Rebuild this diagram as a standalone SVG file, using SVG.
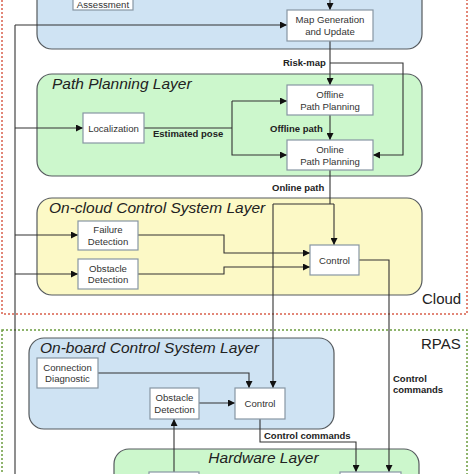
<svg xmlns="http://www.w3.org/2000/svg" width="474" height="474" viewBox="0 0 474 474">
<style>
.bg{fill:#ffffff}
.layer{stroke:#555a5e;stroke-width:1.2}
.blue{fill:#cfe3f3}
.green{fill:#ccf7cc}
.yellow{fill:#fcf9c6}
.box{fill:#ffffff;stroke:#8796a3;stroke-width:1.2}
.t{font-family:"Liberation Sans",Arial,sans-serif;font-size:9.6px;fill:#333;text-anchor:middle}
.lbl{font-family:"Liberation Sans",Arial,sans-serif;font-size:9.5px;font-weight:bold;fill:#222}
.title{font-family:"Liberation Sans",Arial,sans-serif;font-size:15.5px;font-style:italic;fill:#222}
.zone{font-family:"Liberation Sans",Arial,sans-serif;font-size:15px;fill:#222}
.c{fill:none;stroke:#333;stroke-width:1.1}
.ca{fill:none;stroke:#333;stroke-width:1.1;marker-end:url(#ah)}
</style>
<defs>
<marker id="ah" viewBox="0 0 10 10" refX="10" refY="5" markerWidth="7" markerHeight="7" markerUnits="userSpaceOnUse" orient="auto">
<path d="M0,0 L10,5 L0,10 z" fill="#111"/>
</marker>
</defs>
<rect class="bg" x="0" y="0" width="474" height="474"/>

<g id="zone-cloud">
<rect x="2" y="-20" width="465" height="334" fill="none" stroke="#d9604c" stroke-width="1.5" stroke-dasharray="2,2"/>
<text class="zone" x="422" y="304">Cloud</text>
</g>
<g id="zone-rpas">
<rect x="2" y="330" width="465" height="200" fill="none" stroke="#6b9c3e" stroke-width="1.5" stroke-dasharray="2,2"/>
<text class="zone" x="421" y="349">RPAS</text>
</g>

<g id="layer-top">
<rect class="layer blue" x="37" y="-60" width="385" height="109" rx="15"/>
</g>
<g id="layer-path">
<rect class="layer green" x="37" y="74" width="385" height="102" rx="15"/>
<text class="title" x="52" y="89">Path Planning Layer</text>
</g>
<g id="layer-oncloud">
<rect class="layer yellow" x="37" y="198" width="385" height="97" rx="15"/>
<text class="title" x="49" y="213">On-cloud Control System Layer</text>
</g>
<g id="layer-onboard">
<rect class="layer blue" x="29" y="338" width="305" height="91" rx="15"/>
<text class="title" x="40" y="353">On-board Control System Layer</text>
</g>
<g id="layer-hardware">
<rect class="layer green" x="114" y="449" width="305" height="80" rx="15"/>
<text class="title" x="263.5" y="463" text-anchor="middle">Hardware Layer</text>
</g>

<g id="connectors">
<path class="c" d="M15,474 V25"/>
<path class="ca" d="M15,25 H287"/>
<path class="ca" d="M15,128 H83"/>
<path class="ca" d="M15,235 H78"/>
<path class="ca" d="M15,274 H78"/>
<path class="ca" d="M330,0 V10"/>
<path class="ca" d="M330,41 V85"/>
<path class="ca" d="M330,63 H403 V155 H373"/>
<path class="c" d="M144,128 H232"/>
<path class="ca" d="M232,101 V155 H287"/>
<path class="ca" d="M232,101 H287"/>
<path class="ca" d="M330,115 V140"/>
<path class="c" d="M330,170 V204 M273,204 H334"/>
<path class="ca" d="M334,204 V245"/>
<path class="ca" d="M273,204 V388"/>
<path class="ca" d="M138,235 H224 V253 H310"/>
<path class="ca" d="M138,274 H224 V267 H310"/>
<path class="ca" d="M359,260 H389 V472"/>
<path class="ca" d="M98,373 H249 V388"/>
<path class="ca" d="M199,403 H235"/>
<path class="ca" d="M174,474 V419"/>
<path class="ca" d="M260,419 V442 H356 V472"/>
<text class="lbl" x="283" y="66">Risk-map</text>
<text class="lbl" x="153" y="137">Estimated pose</text>
<text class="lbl" x="270" y="132">Offline path</text>
<text class="lbl" x="272" y="191">Online path</text>
<text class="lbl" x="393" y="382">Control</text>
<text class="lbl" x="393" y="393">commands</text>
<text class="lbl" x="264" y="439">Control commands</text>
</g>

<g id="node-assessment">
<rect class="box" x="73" y="-20" width="60" height="30"/>
<text class="t" x="103" y="7.5">Assessment</text>
</g>
<g id="node-mapgen">
<rect class="box" x="287" y="10" width="86" height="31"/>
<text class="t" x="330" y="23">Map Generation</text>
<text class="t" x="330" y="35">and Update</text>
</g>
<g id="node-localization">
<rect class="box" x="83" y="113" width="61" height="30"/>
<text class="t" x="113.5" y="131.5">Localization</text>
</g>
<g id="node-offline">
<rect class="box" x="287" y="85" width="86" height="30"/>
<text class="t" x="330" y="98">Offline</text>
<text class="t" x="330" y="110">Path Planning</text>
</g>
<g id="node-online">
<rect class="box" x="287" y="140" width="86" height="30"/>
<text class="t" x="330" y="153">Online</text>
<text class="t" x="330" y="165">Path Planning</text>
</g>
<g id="node-failure">
<rect class="box" x="78" y="221" width="60" height="29"/>
<text class="t" x="108" y="233">Failure</text>
<text class="t" x="108" y="245">Detection</text>
</g>
<g id="node-obstacle-cloud">
<rect class="box" x="78" y="259" width="60" height="30"/>
<text class="t" x="108" y="272">Obstacle</text>
<text class="t" x="108" y="283">Detection</text>
</g>
<g id="node-control-cloud">
<rect class="box" x="310" y="245" width="49" height="30"/>
<text class="t" x="334.5" y="263.5">Control</text>
</g>
<g id="node-conndiag">
<rect class="box" x="37" y="358" width="61" height="30"/>
<text class="t" x="67.5" y="371">Connection</text>
<text class="t" x="67.5" y="382">Diagnostic</text>
</g>
<g id="node-obstacle-board">
<rect class="box" x="150" y="388" width="49" height="31"/>
<text class="t" x="174.5" y="401">Obstacle</text>
<text class="t" x="174.5" y="413">Detection</text>
</g>
<g id="node-control-board">
<rect class="box" x="235" y="388" width="50" height="31"/>
<text class="t" x="260" y="406.5">Control</text>
</g>
<g id="node-hw-sensor">
<rect class="box" x="149" y="472" width="50" height="30"/>
</g>
<g id="node-hw-actuator">
<rect class="box" x="340" y="472" width="61" height="30"/>
</g>
</svg>
